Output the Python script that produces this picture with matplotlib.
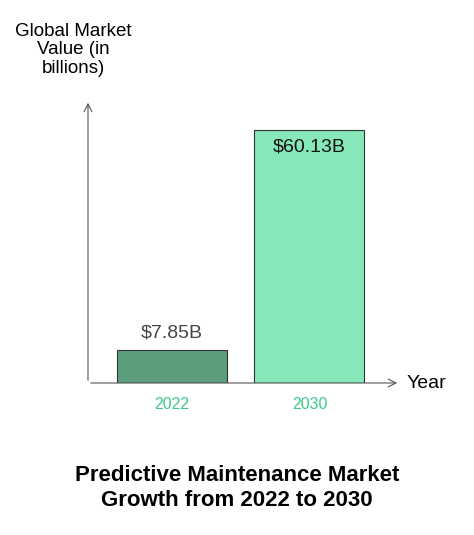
import matplotlib
matplotlib.use("Agg")
import matplotlib.pyplot as plt

plt.rcParams["font.family"] = ["Liberation Sans", "DejaVu Sans"]

years = ["2022", "2030"]
values = [7.85, 60.13]
labels = ["$7.85B", "$60.13B"]
colors = ["#5c9e7c", "#86e8b9"]

fig = plt.figure(figsize=(4.74, 5.35), dpi=100)
ax = fig.add_axes([88/474, 152/535, 312/474, 283/535])
pos = [0.84, 2.215]
ax.bar(pos, values, width=1.1, color=colors, edgecolor="#333333", linewidth=0.8)
ax.set_xlim(0, 3.12)
ax.set_ylim(0, 283/4.2)
for s in ax.spines.values():
    s.set_visible(False)
ax.set_yticks([])
ax.set_xticks(pos)
ax.set_xticklabels(years, color="#3cc88a", fontsize=11.5)
ax.tick_params(axis="x", length=0, pad=10)
ax.annotate("", xy=(1.0, 0), xycoords="axes fraction", xytext=(0, 0),
            arrowprops=dict(arrowstyle="->", color="#555555", lw=0.8, mutation_scale=14))
ax.annotate("", xy=(0, 1.0), xycoords="axes fraction", xytext=(0, 0),
            arrowprops=dict(arrowstyle="->", color="#555555", lw=0.8, mutation_scale=14))
ax.text(pos[0], values[0] + 2, labels[0], ha="center", va="bottom", fontsize=14, color="#444444")
ax.text(pos[1], values[1] - 2, labels[1], ha="center", va="top", fontsize=14, color="#111111")
fig.text(407/474, 1 - 383/535, "Year", ha="left", va="center", fontsize=14)
fig.text(73/474, 1 - 50/535, "Global Market\nValue (in\nbillions)", ha="center", va="center",
         fontsize=13.5, linespacing=1.15)
fig.text(0.5, 1 - 488/535, "Predictive Maintenance Market\nGrowth from 2022 to 2030",
         ha="center", va="center", fontsize=16, fontweight="bold", linespacing=1.25)
fig.savefig("out.png", dpi=100)
